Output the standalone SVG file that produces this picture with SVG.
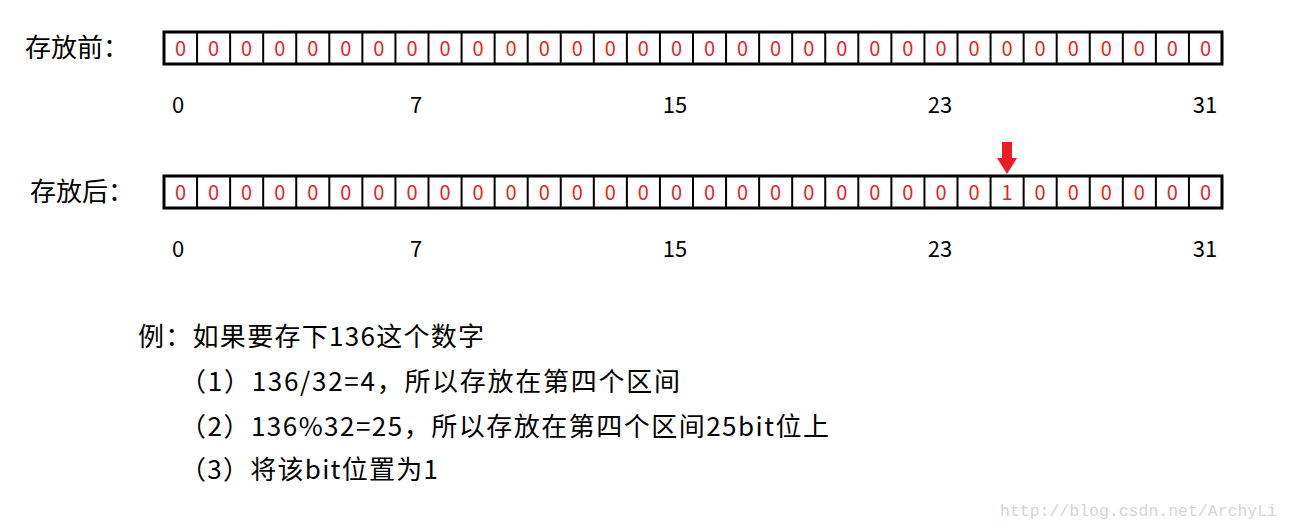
<svg xmlns="http://www.w3.org/2000/svg" width="1290" height="532" viewBox="0 0 1290 532">
<style>
.lbl{font-family:"Noto Sans CJK SC","Liberation Sans",sans-serif;font-size:26px;fill:#000}
.bit{font-family:"Noto Sans CJK SC","Liberation Sans",sans-serif;font-size:20px;fill:#EE1C25;text-anchor:middle}
.idx{font-family:"Noto Sans CJK SC","Liberation Sans",sans-serif;font-size:22px;fill:#000;text-anchor:middle}
.box{fill:#fff;stroke:#000;stroke-width:3}
.div{fill:none;stroke:#000;stroke-width:2}
.wm{font-family:"Liberation Mono",monospace;font-size:16px;fill:#d6d6d0}
</style>
<defs>
<path id="dividers" class="div" d="M197.06 0V32M230.13 0V32M263.19 0V32M296.25 0V32M329.31 0V32M362.38 0V32M395.44 0V32M428.5 0V32M461.56 0V32M494.63 0V32M527.69 0V32M560.75 0V32M593.81 0V32M626.88 0V32M659.94 0V32M693 0V32M726.06 0V32M759.13 0V32M792.19 0V32M825.25 0V32M858.31 0V32M891.38 0V32M924.44 0V32M957.5 0V32M990.56 0V32M1023.63 0V32M1056.69 0V32M1089.75 0V32M1122.81 0V32M1155.88 0V32M1188.94 0V32"/>
</defs>
<rect width="1290" height="532" fill="#fff"/>

<g id="label-before"><text class="lbl" x="25" y="57" textLength="104" lengthAdjust="spacing">存放前：</text></g>
<g id="row-before">
<rect class="box" x="164" y="32" width="1058" height="32"/>
<use href="#dividers" y="32"/>
<text class="bit" y="56"><tspan x="180.53">0</tspan><tspan x="213.59">0</tspan><tspan x="246.66">0</tspan><tspan x="279.72">0</tspan><tspan x="312.78">0</tspan><tspan x="345.84">0</tspan><tspan x="378.91">0</tspan><tspan x="411.97">0</tspan><tspan x="445.03">0</tspan><tspan x="478.09">0</tspan><tspan x="511.16">0</tspan><tspan x="544.22">0</tspan><tspan x="577.28">0</tspan><tspan x="610.34">0</tspan><tspan x="643.41">0</tspan><tspan x="676.47">0</tspan><tspan x="709.53">0</tspan><tspan x="742.59">0</tspan><tspan x="775.66">0</tspan><tspan x="808.72">0</tspan><tspan x="841.78">0</tspan><tspan x="874.84">0</tspan><tspan x="907.91">0</tspan><tspan x="940.97">0</tspan><tspan x="974.03">0</tspan><tspan x="1007.09">0</tspan><tspan x="1040.16">0</tspan><tspan x="1073.22">0</tspan><tspan x="1106.28">0</tspan><tspan x="1139.34">0</tspan><tspan x="1172.41">0</tspan><tspan x="1205.47">0</tspan></text>
</g>
<g id="index-before">
<text class="idx" x="178" y="113">0</text><text class="idx" x="416" y="113">7</text><text class="idx" x="675" y="113">15</text><text class="idx" x="940" y="113">23</text><text class="idx" x="1205" y="113">31</text>
</g>

<g id="marker-arrow"><polygon fill="#ED1C24" points="1002,142 1012,142 1012,158 1017,158 1007,174 997,158 1002,158"/></g>

<g id="label-after"><text class="lbl" x="30" y="201" textLength="104" lengthAdjust="spacing">存放后：</text></g>
<g id="row-after">
<rect class="box" x="164" y="176" width="1058" height="32"/>
<use href="#dividers" y="176"/>
<text class="bit" y="200"><tspan x="180.53">0</tspan><tspan x="213.59">0</tspan><tspan x="246.66">0</tspan><tspan x="279.72">0</tspan><tspan x="312.78">0</tspan><tspan x="345.84">0</tspan><tspan x="378.91">0</tspan><tspan x="411.97">0</tspan><tspan x="445.03">0</tspan><tspan x="478.09">0</tspan><tspan x="511.16">0</tspan><tspan x="544.22">0</tspan><tspan x="577.28">0</tspan><tspan x="610.34">0</tspan><tspan x="643.41">0</tspan><tspan x="676.47">0</tspan><tspan x="709.53">0</tspan><tspan x="742.59">0</tspan><tspan x="775.66">0</tspan><tspan x="808.72">0</tspan><tspan x="841.78">0</tspan><tspan x="874.84">0</tspan><tspan x="907.91">0</tspan><tspan x="940.97">0</tspan><tspan x="974.03">0</tspan><tspan x="1007.09">1</tspan><tspan x="1040.16">0</tspan><tspan x="1073.22">0</tspan><tspan x="1106.28">0</tspan><tspan x="1139.34">0</tspan><tspan x="1172.41">0</tspan><tspan x="1205.47">0</tspan></text>
</g>
<g id="index-after">
<text class="idx" x="178" y="257">0</text><text class="idx" x="416" y="257">7</text><text class="idx" x="675" y="257">15</text><text class="idx" x="940" y="257">23</text><text class="idx" x="1205" y="257">31</text>
</g>

<g id="notes">
<text class="lbl" x="138" y="346" textLength="346" lengthAdjust="spacing">例：如果要存下136这个数字</text>
<text class="lbl" x="180" y="391" textLength="500" lengthAdjust="spacing">（1）136/32=4，所以存放在第四个区间</text>
<text class="lbl" x="180" y="436" textLength="649" lengthAdjust="spacing">（2）136%32=25，所以存放在第四个区间25bit位上</text>
<text class="lbl" x="180" y="479" textLength="258" lengthAdjust="spacing">（3）将该bit位置为1</text>
</g>

<text class="wm" x="1000" y="516" textLength="277" lengthAdjust="spacingAndGlyphs">http://blog.csdn.net/ArchyLi</text>
</svg>
